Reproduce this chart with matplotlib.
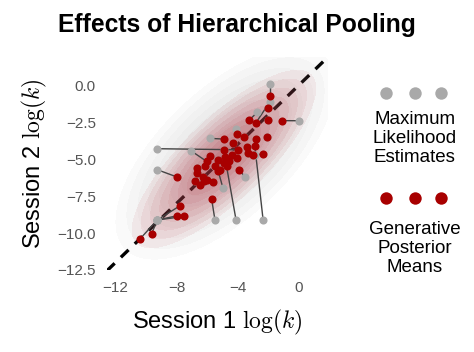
import numpy as np
import matplotlib.pyplot as plt

plt.rcParams["font.family"] = ["Liberation Sans", "DejaVu Sans"]
plt.rcParams["mathtext.fontset"] = "cm"

# posterior means (red) and maximum likelihood estimates (grey), one entry per subject
post_x = [-1.90, -2.01, -3.25, -2.83, -2.01, -1.13, -4.03, -3.60, -2.81, -2.07,
          -4.90, -4.29, -2.88, -3.42, -3.97, -4.90, -4.40, -3.31, -2.33, -5.82,
          -4.84, -4.07, -5.27, -6.03, -4.90, -5.49, -6.69, -6.14, -4.73, -5.16,
          -3.90, -7.95, -6.69, -6.25, -5.27, -6.80, -6.21, -5.60, -6.47, -5.71,
          -7.78, -7.95, -7.52, -9.63, -10.40, -3.00, -4.55, -6.00]
post_y = [-0.72, -1.53, -2.36, -2.58, -2.36, -2.40, -3.31, -3.51, -3.61, -3.54,
          -3.65, -3.88, -4.15, -4.19, -4.37, -4.37, -4.71, -4.59, -4.64, -4.82,
          -4.86, -4.93, -5.05, -5.16, -5.27, -5.50, -5.61, -5.50, -5.50, -5.72,
          -5.72, -6.22, -5.95, -6.18, -5.84, -6.51, -6.51, -6.58, -6.74, -7.68,
          -8.16, -8.83, -8.88, -10.05, -10.41, -4.70, -5.10, -6.40]
mle_x = [-1.90, -2.01, -2.73, -1.90, -2.01, 0.02, -4.10, -3.60, -2.81, -2.07,
         -5.79, -4.29, -2.34, -3.42, -9.26, -4.90, -4.40, -3.31, -2.90, -5.82,
         -4.84, -4.07, -5.27, -7.04, -4.90, -5.49, -6.69, -6.14, -4.11, -5.16,
         -3.53, -9.26, -6.69, -6.25, -4.97, -6.80, -6.21, -5.60, -6.47, -5.49,
         -9.26, -9.26, -9.26, -9.26, -9.26, -3.00, -4.55, -6.00]
mle_y = [0.09, -1.53, -1.85, -1.13, -2.36, -2.41, -3.00, -3.51, -3.61, -3.54,
         -3.60, -3.88, -9.12, -4.19, -4.30, -4.37, -4.71, -4.59, -4.75, -4.82,
         -4.86, -4.93, -5.05, -4.45, -5.27, -5.50, -5.61, -5.50, -9.12, -5.72,
         -6.22, -5.72, -5.95, -6.18, -6.94, -6.51, -6.51, -6.58, -6.74, -9.12,
         -9.12, -9.12, -9.12, -9.12, -9.12, -4.70, -5.10, -6.40]

# group-level distributions (shaded)
mle_mean = [-4.8, -4.6]
mle_cov = [[5.7, 3.7], [3.7, 5.7]]
post_mean = [-4.9, -5.0]
post_cov = [[4.0, 3.2], [3.2, 4.0]]
radii = [0.3, 0.6, 0.9, 1.2, 1.5, 1.8, 2.1, 2.4, 2.7, 3.0]

legend_labels = ["Maximum\nLikelihood\nEstimates", "Generative\nPosterior\nMeans"]
grey = "#a9a9a9"
red = "#a80000"

fig = plt.figure(figsize=(4.74, 3.52), dpi=100)
ax = fig.add_axes([0.2257, 0.233, 0.4662, 0.605])

lims = (-12.55, 1.9)
ax.plot(lims, lims, color="black", lw=2.4, ls=(0, (3.2, 2.6)), zorder=0)


def shade(mean, cov, color, alpha):
    gx, gy = np.meshgrid(np.linspace(-16, 6, 300), np.linspace(-16, 6, 300))
    d = np.stack([gx - mean[0], gy - mean[1]], axis=-1)
    inv = np.linalg.inv(np.array(cov))
    m2 = np.einsum("...i,ij,...j->...", d, inv, d)
    for r in radii:
        ax.contourf(gx, gy, m2, levels=[0, r ** 2], colors=[color], alpha=alpha, zorder=1)


shade(mle_mean, mle_cov, "#999999", 0.045)
shade(post_mean, post_cov, "#b01020", 0.06)

for px, py, mx, my in zip(post_x, post_y, mle_x, mle_y):
    ax.plot([px, mx], [py, my], color="#444444", lw=1.0, zorder=2)
ax.scatter(mle_x, mle_y, s=34, color=grey, zorder=3, linewidths=0)
ax.scatter(post_x, post_y, s=34, color=red, zorder=4, linewidths=0)

ax.set_xlim(lims)
ax.set_ylim(-12.5, 1.9)
ax.set_xticks([-12, -8, -4, 0])
ax.set_yticks([0.0, -2.5, -5.0, -7.5, -10.0, -12.5])
ax.set_yticklabels(["0.0", "\u22122.5", "\u22125.0", "\u22127.5", "\u221210.0", "\u221212.5"])
ax.set_xticklabels(["\u221212", "\u22128", "\u22124", "0"])
ax.tick_params(length=0, labelsize=11, labelcolor="#555555", pad=8)
for s in ax.spines.values():
    s.set_visible(False)
ax.set_xlabel(r"Session 1 $\log(k)$", fontsize=17, labelpad=9)
ax.set_ylabel(r"Session 2 $\log(k)$", fontsize=17, labelpad=6)

fig.text(0.5, 0.93, "Effects of Hierarchical Pooling", ha="center", va="center",
         fontsize=17.7, fontweight="bold")

# legend on the right: three dots above each label
lax = fig.add_axes([0.74, 0.15, 0.26, 0.72])
lax.set_xlim(0, 1)
lax.set_ylim(0, 1)
lax.axis("off")
for label, color, ydot, ytxt in zip(legend_labels, [grey, red], [0.813, 0.398], [0.635, 0.201]):
    lax.scatter([0.29, 0.52, 0.73], [ydot] * 3, s=80, color=color, linewidths=0)
    lax.text(0.52, ytxt, label, ha="center", va="center", fontsize=13.5, linespacing=1.15)

fig.savefig("out.png", dpi=100)
